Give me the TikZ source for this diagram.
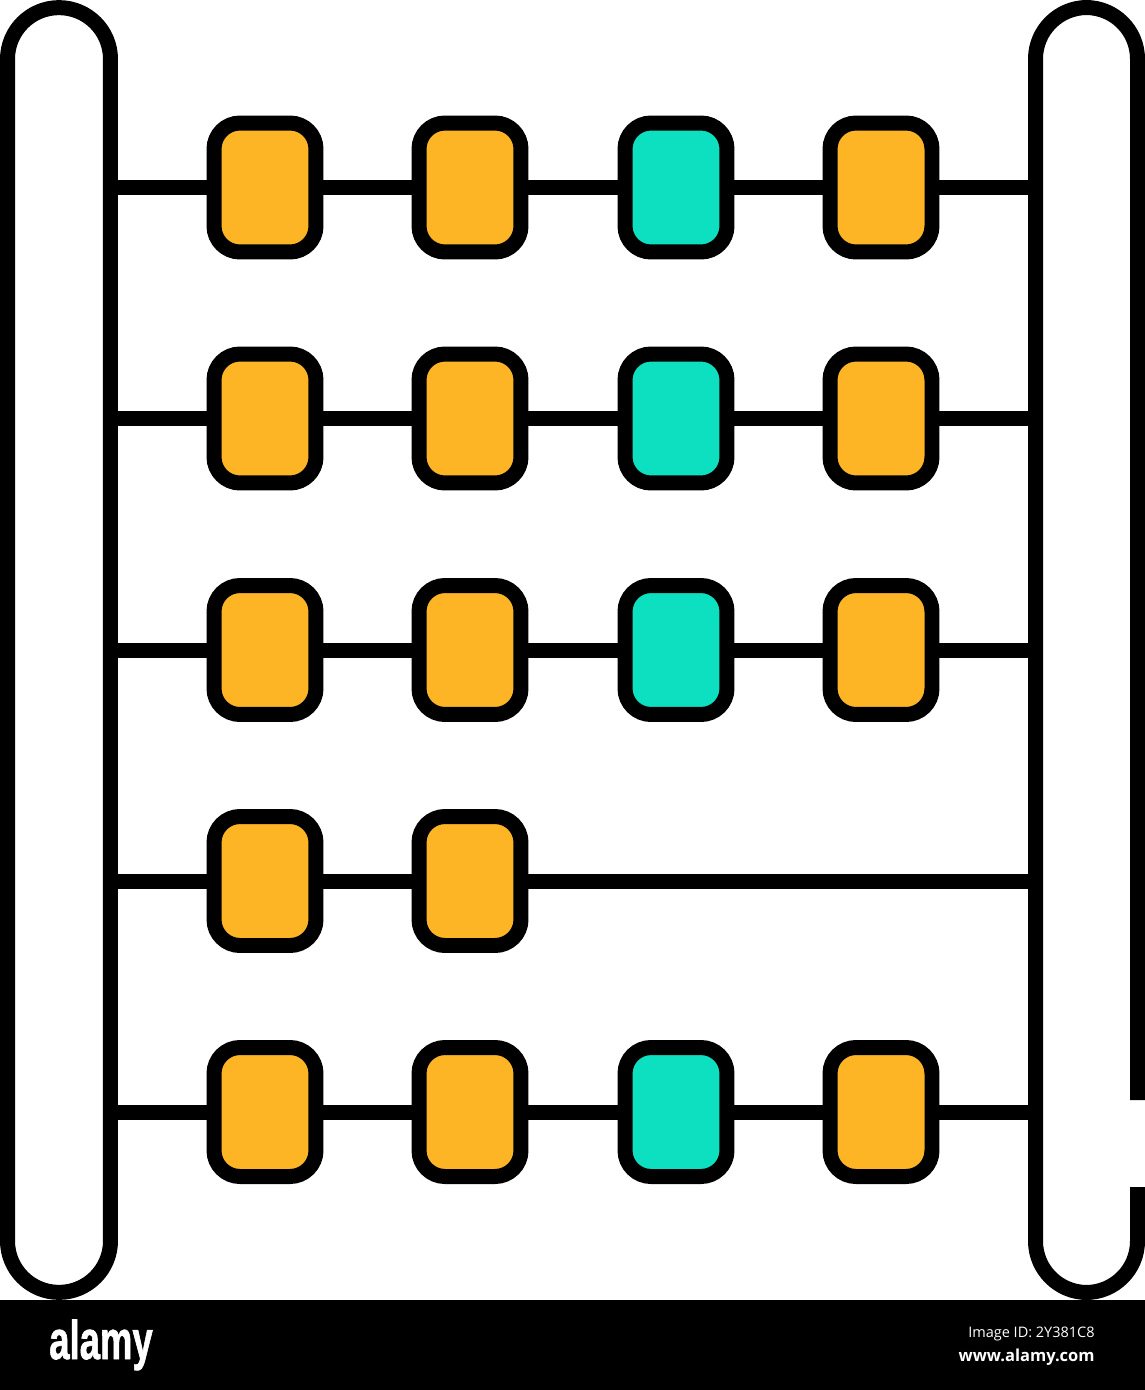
\documentclass[tikz,border=0pt]{standalone}
\usepackage{fontspec}
\setmainfont{Open Sans}
\newfontfamily\logofont[BoldFeatures={FakeBold=1.5}]{Liberation Sans}
\definecolor{beadorange}{HTML}{FDB525}
\definecolor{beadteal}{HTML}{0CE0C1}
\tikzset{
    bead/.style={draw, line width=0.3cm, rounded corners=0.52cm, outer sep=0, inner sep=0,
        minimum width=2.04cm, minimum height=2.58cm},
    bar/.style={draw, line width=0.3cm, rounded corners=1.03cm, outer sep=0, inner sep=0,
        minimum width=2.06cm, minimum height=25.7cm},
    rod/.style={line width=0.3cm}
}

\begin{document}
\begin{tikzpicture}[x=0.02cm,y=-0.02cm]
\useasboundingbox (0,0) rectangle (1145,1390);

% frame
\node[bar] (barL) at (59,650) {};
\draw[rod, rounded corners=1.03cm] (1137.5,1100) -- (1137.5,7.5) -- (1035.5,7.5) -- (1035.5,1292.5) -- (1137.5,1292.5) -- (1137.5,1187);
\coordinate (barR) at (1035.5,650);

% beads
\foreach \r/\y in {1/187.5,2/418.5,3/650,5/1112} {
    \node[bead, fill=beadorange] (b\r1) at (265,\y) {};
    \node[bead, fill=beadorange] (b\r2) at (470,\y) {};
    \node[bead, fill=beadteal] (b\r3) at (676,\y) {};
    \node[bead, fill=beadorange] (b\r4) at (881,\y) {};
}
\node[bead, fill=beadorange] (b41) at (265,881) {};
\node[bead, fill=beadorange] (b42) at (470,881) {};

% rods
\foreach \r in {1,2,3,5} {
    \draw[rod] (barL.east |- b\r1.west) -- (b\r1.west);
    \draw[rod] (b\r1) -- (b\r2);
    \draw[rod] (b\r2) -- (b\r3);
    \draw[rod] (b\r3) -- (b\r4);
    \draw[rod] (b\r4.east) -- (barR |- b\r4.east);
}
\draw[rod] (barL.east |- b41.west) -- (b41.west);
\draw[rod] (b41) -- (b42);
\draw[rod] (b42.east) -- (barR |- b42.east);

% footer
\fill[black] (0,1300) rectangle (1145,1390);
\node[white, inner sep=0, font=\logofont\fontsize{31pt}{31pt}\selectfont\bfseries, anchor=base] (logo) at (101,1359) {\scalebox{.67}[1]{alamy}};
\node[white, inner sep=0, font=\fontsize{8.25pt}{10pt}\selectfont, anchor=base east] (imageid) at (1095,1337) {Image ID: 2Y381C8};
\node[white, inner sep=0, font=\fontsize{9.4pt}{10pt}\selectfont\bfseries, anchor=base east] (site) at (1095,1361) {www.alamy.com};
\end{tikzpicture}
\end{document}
